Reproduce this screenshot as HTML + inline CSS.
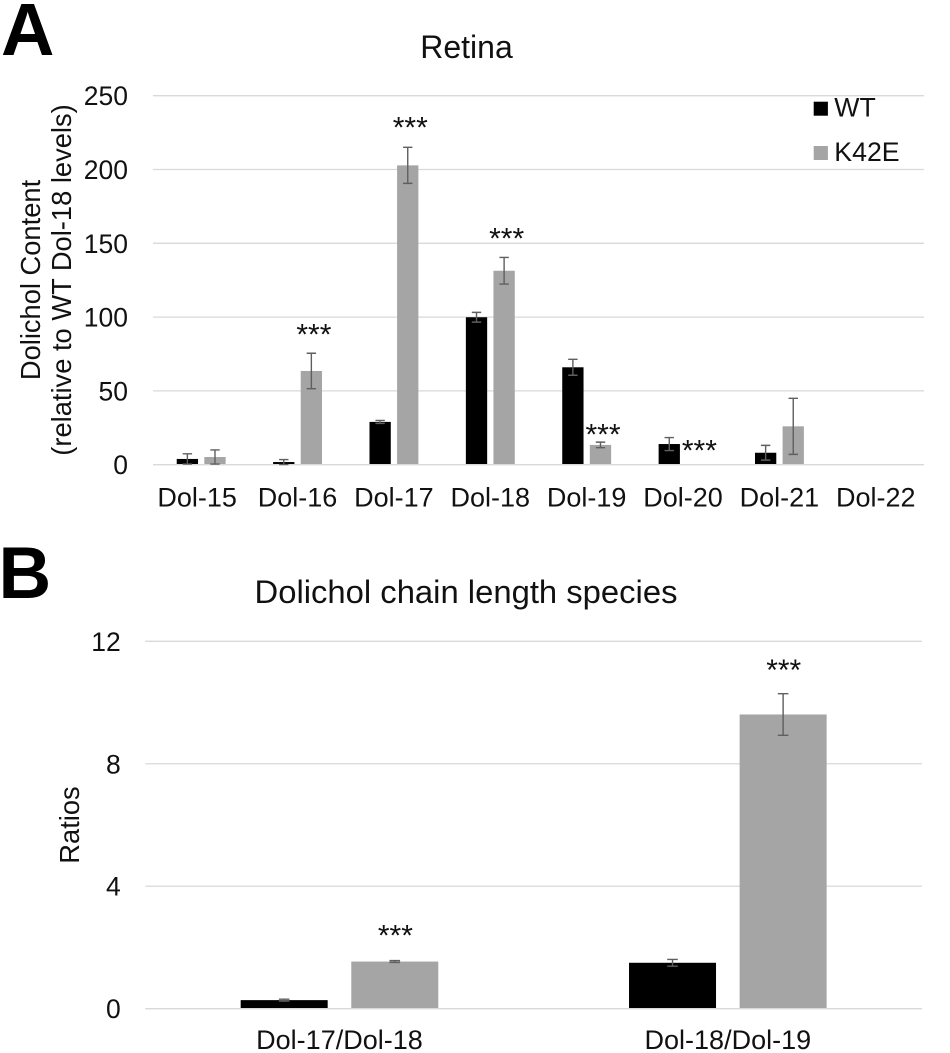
<!DOCTYPE html>
<html lang="en">
<head>
<meta charset="utf-8">
<title>Dolichol content charts</title>
<style>
  html, body { margin: 0; padding: 0; background: #fff; }
  svg { display: block; }
  text { font-family: "Liberation Sans", Arial, sans-serif; fill: #111; }
</style>
</head>
<body>
<svg id="figure" xmlns="http://www.w3.org/2000/svg" width="950" height="1053" viewBox="0 0 950 1053">
  <rect x="0" y="0" width="950" height="1053" fill="#fff"/>
  <text x="1" y="55" font-size="74" font-weight="700" style="fill:#000">A</text>
  <text x="-1.5" y="598" font-size="73" font-weight="700" style="fill:#000">B</text>
  <text x="466.5" y="58" font-size="32" text-anchor="middle">Retina</text>
  <text x="466" y="603" font-size="32.8" text-anchor="middle">Dolichol chain length species</text>
  <text transform="translate(40 280) rotate(-90)" font-size="27.3" text-anchor="middle">Dolichol Content</text>
  <text transform="translate(71 280) rotate(-90)" font-size="27.3" text-anchor="middle">(relative to WT Dol-18 levels)</text>
  <text transform="translate(79 825) rotate(-90)" font-size="27.3" text-anchor="middle">Ratios</text>
  <g id="panel-a"></g>
  <g id="panel-b"></g>
  <g>
    <rect x="813.7" y="101.7" width="14.2" height="14" fill="#000"/>
    <text x="834.3" y="116.7" font-size="26.7">WT</text>
    <rect x="813.7" y="146" width="14.2" height="14" fill="#a5a5a5"/>
    <text x="834.3" y="161" font-size="26.7">K42E</text>
  </g>
</svg>
<script>
// Panel A data
const categoriesA = ['Dol-15', 'Dol-16', 'Dol-17', 'Dol-18', 'Dol-19', 'Dol-20', 'Dol-21', 'Dol-22'];
const wtValuesA = [3.9, 1.8, 29, 99.9, 66, 14, 8.1, 0];
const wtErrorsA = [3.5, 1.7, 1, 3.3, 5.4, 4.4, 5, 0];
const k42eValuesA = [5.2, 63.5, 202.8, 131.4, 13.4, 0, 26, 0];
const k42eErrorsA = [4.8, 12, 12.2, 9, 1.9, 0, 19, 0];
const tickValuesA = [0, 50, 100, 150, 200, 250];
const starCategoriesA = ['Dol-16', 'Dol-17', 'Dol-18', 'Dol-19', 'Dol-20'];
const starLevelsA = [90.6, 230.8, 155.6, 23, 12];

// Panel B data
const categoriesB = ['Dol-17/Dol-18', 'Dol-18/Dol-19'];
const wtValuesB = [0.28, 1.5];
const wtErrorsB = [0.03, 0.11];
const k42eValuesB = [1.54, 9.61];
const k42eErrorsB = [0.03, 0.68];
const tickValuesB = [0, 4, 8, 12];
const starCategoriesB = ['Dol-17/Dol-18', 'Dol-18/Dol-19'];
const starLevelsB = [2.5, 11.17];

const SVG_NS = 'http://www.w3.org/2000/svg';

function make(parent, tag, attrs, content) {
  const el = document.createElementNS(SVG_NS, tag);
  for (const k in attrs) el.setAttribute(k, attrs[k]);
  if (content !== undefined) el.textContent = content;
  parent.appendChild(el);
  return el;
}

function slug(s) {
  return s.toLowerCase().replace(/[^a-z0-9]+/g, '-');
}

function drawPanel(cfg) {
  const root = document.getElementById(cfg.id);
  const yMax = cfg.ticks[cfg.ticks.length - 1];
  const y = v => cfg.y0 + (cfg.yTop - cfg.y0) * v / yMax;
  const step = (cfg.x1 - cfg.x0) / cfg.categories.length;
  const center = i => cfg.x0 + step * (i + 0.5);
  const wtX = i => center(i) - cfg.gap / 2 - cfg.barW;
  const k42eX = i => center(i) + cfg.gap / 2;

  cfg.ticks.forEach(t => {
    const line = make(root, 'line', { x1: cfg.x0, x2: cfg.x1, y1: y(t), y2: y(t), stroke: '#d9d9d9', 'stroke-width': 1.3 });
    
    
    const label = make(root, 'text', { x: cfg.tickX, y: y(t) + 9.5, 'font-size': 26.5, 'text-anchor': 'end' }, String(t));
    
    
  });

  function series(values, errors, xFn, fill, name) {
    values.forEach((v, i) => {
      if (v <= 0) return;
      const bottom = y(0) - 0.7;
      const bar = make(root, 'rect', { x: xFn(i), y: y(v), width: cfg.barW, height: Math.max(0, bottom - y(v)), fill: fill });
      
      
    });
    values.forEach((v, i) => {
      if (v <= 0) return;
      const cx = xFn(i) + cfg.barW / 2;
      const yHi = y(v + errors[i]);
      const yLo = y(v - errors[i]);
      const err = make(root, 'path', {
        d: 'M' + cx + ' ' + yHi + 'V' + yLo +
           'M' + (cx - cfg.cap) + ' ' + yHi + 'H' + (cx + cfg.cap) +
           'M' + (cx - cfg.cap) + ' ' + yLo + 'H' + (cx + cfg.cap),
        fill: 'none', stroke: '#5f5f5f', 'stroke-width': 1.4
      });
      
      
    });
  }
  series(cfg.wt, cfg.wtErr, wtX, '#000', 'wt');
  series(cfg.k42e, cfg.k42eErr, k42eX, '#a5a5a5', 'k42e');

  cfg.categories.forEach((c, i) => {
    const shift = i === 0 ? cfg.firstLabelShift : 0;
    const label = make(root, 'text', { x: center(i) + shift, y: cfg.labelY, 'font-size': 27, 'text-anchor': 'middle' }, c);
    
    
  });

  cfg.starCats.forEach((c, j) => {
    const i = cfg.categories.indexOf(c);
    const sx = k42eX(i) + cfg.barW / 2 + cfg.starShift;
    const star = make(root, 'text', { x: sx, y: y(cfg.starLevels[j]) + 13.5, 'font-size': 30, 'text-anchor': 'middle' }, '***');
    
    
  });
}

drawPanel({
  id: 'panel-a', categories: categoriesA, ticks: tickValuesA,
  wt: wtValuesA, wtErr: wtErrorsA, k42e: k42eValuesA, k42eErr: k42eErrorsA,
  starCats: starCategoriesA, starLevels: starLevelsA,
  x0: 153, x1: 924, y0: 464.7, yTop: 95.7, barW: 21.3, gap: 6.3, cap: 4.7,
  tickX: 128, labelY: 506.7, firstLabelShift: -4, starShift: 2.5
});

drawPanel({
  id: 'panel-b', categories: categoriesB, ticks: tickValuesB,
  wt: wtValuesB, wtErr: wtErrorsB, k42e: k42eValuesB, k42eErr: k42eErrorsB,
  starCats: starCategoriesB, starLevels: starLevelsB,
  x0: 145.3, x1: 922, y0: 1008.7, yTop: 641.3, barW: 87, gap: 23.6, cap: 5.3,
  tickX: 120.7, labelY: 1049, firstLabelShift: 0, starShift: 0.6
});
</script>
</body>
</html>
